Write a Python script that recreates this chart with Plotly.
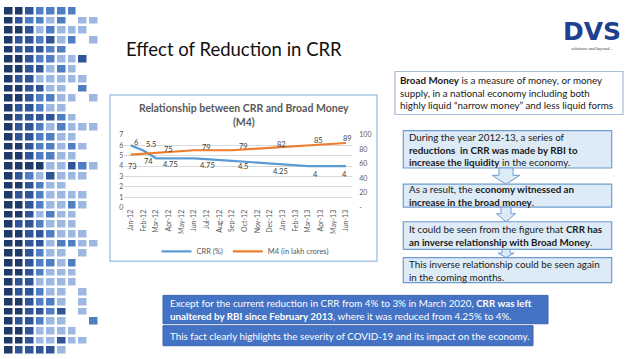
import plotly.graph_objects as go

# ---------------- data ----------------
months = ["Jan-12", "Feb-12", "Mar-12", "Apr-12", "May-12", "Jun-12", "Jul-12", "Aug-12", "Sep-12",
          "Oct-12", "Nov-12", "Dec-12", "Jan-13", "Feb-13", "Mar-13", "Apr-13", "May-13", "Jun-13"]
crr = [6, 5.5, 4.75, None, None, 4.75, None, None, 4.5, None, None, 4.25, None, None, 4, None, None, 4]
m4 = [73, 74, 75, None, None, 79, None, None, 79, None, None, 82, None, None, 85, None, None, 89]
left_ticks = [0, 1, 2, 3, 4, 5, 6, 7]
right_ticks = [0, 20, 40, 60, 80, 100]
right_ticktext = ["-", "20", "40", "60", "80", "100"]

# decorative mosaic (0 = empty, 1 light .. 4 navy)
mosaic_rows = [
    "443222200", "432212011", "443121110", "433231201", "433322000", "443221130",
    "443312100", "433111110", "443311020", "443221101", "433211000", "433332100",
    "433212111", "433221100", "443221210", "443221100", "444411321", "432131110",
    "443211000", "433211110", "443211210", "443121100", "433211100", "443321110",
    "443312211", "443211010", "443221200", "443211100", "433111100", "433211010",
    "443221010", "443323010", "433211002", "443111100", "443113110", "433331000",
]

# ---------------- helpers (pixel -> paper) ----------------
W, H = 638, 359
def px(x):
    return x / W
def py(y):
    return 1 - y / H

FONT = "Lato"
GRAY = "#595959"
BLUE = "#5B9BD5"
ORANGE = "#ED7D31"

fig = go.Figure()

# mosaic heatmap
z = [[(int(c) if c != "0" else None) for c in row] for row in mosaic_rows]
c1, c2, c3, c4 = "#9DB9E1", "#4F7EC2", "#2F5596", "#1F3A66"
fig.add_trace(go.Heatmap(
    z=z, xaxis="x3", yaxis="y3", zmin=0.5, zmax=4.5, showscale=False,
    colorscale=[[0, c1], [0.25, c1], [0.25, c2], [0.5, c2], [0.5, c3], [0.75, c3], [0.75, c4], [1, c4]],
    xgap=2.5, ygap=2.5, hoverinfo="skip"))

# chart series
fig.add_trace(go.Scatter(x=months, y=crr, name="CRR (%)", mode="lines", connectgaps=True,
                         line=dict(color=BLUE, width=2.2), xaxis="x", yaxis="y"))
fig.add_trace(go.Scatter(x=months, y=m4, name="M4 (in lakh crores)", mode="lines", connectgaps=True,
                         line=dict(color=ORANGE, width=2.2), xaxis="x", yaxis="y2"))

annotations = []
# data labels (offsets in pixels)
crr_off = [(6, 3), (8, 6), (14, -6), (13, -7), (11, -6), (10, -8), (8, -8), (-1, -8)]
m4_off = [(2, -12), (5, -8), (12, 4), (12, 3), (11, 4), (11, 4), (11, 5), (2, 4)]
def fmt(v):
    return ("%g" % v)
k = 0
for m, v in zip(months, crr):
    if v is None:
        continue
    dx, dy = crr_off[k]; k += 1
    annotations.append(dict(x=m, y=v, xref="x", yref="y", text=fmt(v), showarrow=False,
                            xanchor="center", yanchor="middle",
                            xshift=dx, yshift=dy, font=dict(size=7.5, color="#404040", family=FONT)))
k = 0
for m, v in zip(months, m4):
    if v is None:
        continue
    dx, dy = m4_off[k]; k += 1
    annotations.append(dict(x=m, y=v, xref="x", yref="y2", text=fmt(v), showarrow=False,
                            xanchor="center", yanchor="middle",
                            xshift=dx, yshift=dy, font=dict(size=7.5, color="#404040", family=FONT)))

# chart title
annotations.append(dict(x=px(244), y=py(112.5), xref="paper", yref="paper", showarrow=False,
                        xanchor="center", yanchor="middle",
                        text="<b>Relationship between CRR and Broad Money<br>(M4)</b>",
                        font=dict(size=10.5, color=GRAY, family=FONT), align="center"))

# slide title
annotations.append(dict(x=px(124), y=py(45), xref="paper", yref="paper", xanchor="left", yanchor="middle",
                        showarrow=False,
                        text="Effect of Reduction in CRR", font=dict(size=18.5, color="#111111", family=FONT)))

# logo
annotations.append(dict(x=px(592), y=py(27), xref="paper", yref="paper", showarrow=False,
                        xanchor="center", yanchor="middle",
                        text="<b>DVS</b>", font=dict(size=25, color="#1F3F8F", family="DejaVu Sans")))
annotations.append(dict(x=px(592), y=py(44), xref="paper", yref="paper", showarrow=False,
                        xanchor="center", yanchor="middle",
                        text="<i>solutions and beyond...</i>", font=dict(size=4.5, color="#333333", family="Liberation Serif")))

shapes = []
# chart box
shapes.append(dict(type="rect", xref="paper", yref="paper", x0=px(110), x1=px(377), y0=py(262), y1=py(92),
                   line=dict(color="#A9C7E4", width=1.5), fillcolor="rgba(0,0,0,0)", layer="below"))

# right text boxes
TXT = dict(size=9.8, color="#1A1A1A", family=FONT)
shapes.append(dict(type="rect", xref="paper", yref="paper", x0=px(395), x1=px(623), y0=py(112), y1=py(68),
                   line=dict(color="#A7BEDC", width=1.2), fillcolor="white"))
annotations.append(dict(x=px(398), y=py(89.5), xref="paper", yref="paper", xanchor="left", yanchor="middle",
                        showarrow=False, align="left", font=TXT,
                        text="<b>Broad Money</b> is a measure of money, or money<br>"
                             "supply, in a national economy including both<br>"
                             "highly liquid “narrow money” and less liquid forms"))

BOXF, BOXL = "#DDEBF7", "#6F9CCF"
boxes = [
    (128.5, 166.7, "During the year 2012-13, a series of<br>"
                   "<b>reductions  in CRR was made by RBI to</b><br>"
                   "<b>increase the liquidity</b> in the economy."),
    (183.3, 206.7, "As a result, the <b>economy witnessed an</b><br>"
                   "<b>increase in the broad money</b>."),
    (221.7, 250.0, "It could be seen from the figure that <b>CRR has</b><br>"
                   "<b>an inverse relationship with Broad Money</b>."),
    (258.3, 284.0, "This inverse relationship could be seen again<br>"
                   "in the coming months."),
]
for y0, y1, t in boxes:
    shapes.append(dict(type="rect", xref="paper", yref="paper", x0=px(403.3), x1=px(611.7), y0=py(y1), y1=py(y0),
                       line=dict(color=BOXL, width=1.2), fillcolor=BOXF))
    annotations.append(dict(x=px(407), y=py((y0 + y1) / 2), xref="paper", yref="paper", xanchor="left",
                            yanchor="middle", showarrow=False, align="left", font=TXT, text=t))

def down_arrow(cx, y0, y1, sw, hw):
    ym = y0 + 0.45 * (y1 - y0)
    pts = [(cx - sw, y0), (cx + sw, y0), (cx + sw, ym), (cx + hw, ym), (cx, y1), (cx - hw, ym), (cx - sw, ym)]
    return "M " + " L ".join("%f,%f" % (px(a), py(b)) for a, b in pts) + " Z"

for (ya, yb, sw, hw) in [(166.7, 183.3, 7, 14), (206.7, 221.7, 5, 9.5), (250.0, 258.3, 4, 8)]:
    shapes.append(dict(type="path", xref="paper", yref="paper", path=down_arrow(506, ya, yb, sw, hw),
                       line=dict(color=BOXL, width=1), fillcolor=BOXF))

# bottom dark boxes
DARK = "#4472C4"
shapes.append(dict(type="rect", xref="paper", yref="paper", x0=px(163), x1=px(548), y0=py(326), y1=py(297),
                   line=dict(color="#3A64AE", width=1), fillcolor=DARK))
shapes.append(dict(type="rect", xref="paper", yref="paper", x0=px(163), x1=px(533), y0=py(348.5), y1=py(328),
                   line=dict(color="#3A64AE", width=1), fillcolor=DARK))
WTXT = dict(size=9.8, color="white", family=FONT)
annotations.append(dict(x=px(168), y=py(311.5), xref="paper", yref="paper", xanchor="left", yanchor="middle",
                        showarrow=False, align="left", font=WTXT,
                        text="Except for the current reduction in CRR from 4% to 3% in March 2020, <b>CRR was left</b><br>"
                             "<b>unaltered by RBI since February 2013</b>, where it was reduced from 4.25% to 4%."))
annotations.append(dict(x=px(168), y=py(338.3), xref="paper", yref="paper", xanchor="left", yanchor="middle",
                        showarrow=False, align="left", font=WTXT,
                        text="This fact clearly highlights the severity of COVID-19 and its impact on the economy."))

fig.update_layout(
    width=W, height=H, margin=dict(l=0, r=0, t=0, b=0),
    paper_bgcolor="white", plot_bgcolor="rgba(0,0,0,0)",
    font=dict(family=FONT, color=GRAY),
    showlegend=True,
    legend=dict(orientation="h", x=px(245), xanchor="center", y=py(252), yanchor="middle",
                font=dict(size=7.5, color=GRAY, family=FONT), bgcolor="rgba(0,0,0,0)",
                itemwidth=30, tracegroupgap=0),
    xaxis=dict(domain=[px(124.4), px(352.3)], type="category", categoryorder="array", categoryarray=months,
               range=[-0.5, len(months) - 0.5], showgrid=False, ticks="", tickangle=-90,
               tickfont=dict(size=7, color=GRAY, family=FONT), showline=False, zeroline=False,
               anchor="y"),
    yaxis=dict(domain=[py(207), py(133)], range=[0, 7], tickvals=left_ticks, showgrid=True,
               gridcolor="#D9D9D9", gridwidth=1, zeroline=False, showline=False,
               tickfont=dict(size=7, color=GRAY, family=FONT), anchor="x"),
    yaxis2=dict(overlaying="y", side="right", range=[0, 100], tickvals=right_ticks, ticktext=right_ticktext,
                showgrid=False, zeroline=False, showline=False, ticklabelstandoff=6,
                tickfont=dict(size=7, color=GRAY, family=FONT), anchor="x"),
    xaxis3=dict(domain=[px(3), px(98.6)], visible=False, range=[-0.5, 8.5], fixedrange=True),
    yaxis3=dict(domain=[py(358), py(1)], visible=False, range=[len(mosaic_rows) - 0.5, -0.5], fixedrange=True,
                anchor="x3"),
    annotations=annotations, shapes=shapes,
)
fig.data[0].update(showlegend=False)

fig.write_html("out.html", config={"displayModeBar": False},
               post_script="document.body.style.margin='0px';")
